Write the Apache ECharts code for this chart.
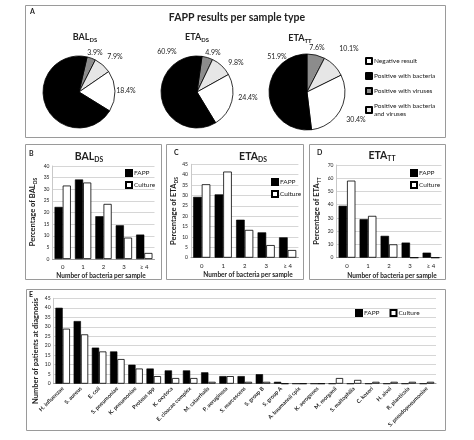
<!DOCTYPE html>
<html><head><meta charset="utf-8">
<script src="https://cdn.jsdelivr.net/npm/echarts@6/dist/echarts.min.js"></script>
<style>html,body{margin:0;padding:0;background:#fff}#c{width:474px;height:440px}</style>
</head><body><div id="c"></div>
<script>
// ---------- DATA ----------
const pieCategories = ['Negative result', 'Positive with bacteria', 'Positive with viruses', 'Positive with bacteria and viruses'];
const pieBAL = [18.4, 69.8, 3.9, 7.9];
const pieETADS = [24.4, 60.9, 4.9, 9.8];
const pieETATT = [30.4, 51.9, 7.6, 10.1];

const bacteriaCategories = ['0', '1', '2', '3', '≥ 4'];
const balFAPP = [22.4, 34.2, 18.4, 14.5, 10.5];
const balCulture = [31.6, 32.9, 23.7, 9.2, 2.6];
const etadsFAPP = [29.3, 30.5, 18.3, 12.2, 9.8];
const etadsCulture = [35.4, 41.5, 13.4, 6.1, 3.7];
const ettFAPP = [39.2, 29.1, 16.5, 11.4, 3.8];
const ettCulture = [58.2, 31.6, 10.1, 0, 0];

const species = ['H. influenzae', 'S. aureus', 'E. coli', 'S. pneumoniae', 'K. pneumoniae', 'Proteus spp', 'K. oxytoca',
  'E. cloacae complex', 'M. catarrhalis', 'P. aeruginosa', 'S. marcescens', 'S. group B', 'S. group A', 'A. baumannii cplx',
  'K. aerogenes', 'M. morganii', 'S. maltophilia', 'C. koseri', 'H. alvei', 'R. planticola', 'S. pseudopneumoniae'];
const speciesFAPP = [40, 33, 19, 17, 10, 8, 7, 7, 6, 4, 4, 5, 1, 0, 0, 0, 0, 0, 0, 0, 0];
const speciesCulture = [29, 26, 17, 13, 8, 4, 3, 3, 1, 4, 1, 1, 0, 0, 0, 3, 2, 1, 1, 1, 1];

// ---------- STYLE / LAYOUT ----------
const FONT = 'Lato, "Open Sans", sans-serif';
const TXT = '#222';
const pieColors = ['#ffffff', '#000000', '#8c8c8c', '#e6e6e6'];
const pieOrder = [2, 3, 0, 1]; // clockwise drawing order
const pieLayout = [
  { center: [79, 92], r: 36, start: 77, labels: [[126, 91], [50, 52], [95, 53], [115, 57]] },
  { center: [197, 92], r: 36, start: 82, labels: [[248, 98], [167, 52], [213, 53], [236, 63]] },
  { center: [307, 92], r: 38, start: 90, labels: [[356, 120], [277, 57], [317, 48], [349, 49]] }
];

function pieSeries(values, lay) {
  return {
    type: 'pie', radius: lay.r, center: lay.center, startAngle: lay.start, clockwise: true,
    silent: true, animation: false,
    data: pieOrder.map(i => ({ name: pieCategories[i], value: values[i], itemStyle: { color: pieColors[i] } })),
    itemStyle: { borderColor: '#000', borderWidth: 0.8 },
    label: { show: true, formatter: p => p.value.toFixed(1) + '%', fontSize: 7, color: TXT, fontFamily: FONT },
    labelLine: { show: false },
    labelLayout: p => {
      const idx = pieOrder[p.dataIndex];
      const pos = lay.labels[idx];
      return { x: pos[0], y: pos[1], align: 'center', verticalAlign: 'middle' };
    }
  };
}

const gridDefs = [
  { left: 52.5, top: 166, width: 102, height: 93 },
  { left: 191, top: 164.3, width: 107.4, height: 93.4 },
  { left: 336.5, top: 165, width: 105, height: 92.7 },
  { left: 53.6, top: 298.3, width: 382.4, height: 85.4 }
];
const yMax = [40, 45, 70, 45];
const yInt = [5, 5, 10, 5];

function xAxisDef(i, cats) {
  const isE = i === 3;
  return {
    type: 'category', gridIndex: i, data: cats,
    axisLine: { lineStyle: { color: '#9a9a9a', width: 1 } },
    axisTick: { show: false },
    axisLabel: isE ? { interval: 0, rotate: 45, fontSize: 5.5, fontWeight: 'bold', color: TXT, fontFamily: FONT, margin: 4 }
                   : { fontSize: 6, color: TXT, fontFamily: FONT, margin: 5 }
  };
}
function yAxisDef(i) {
  return {
    type: 'value', gridIndex: i, min: 0, max: yMax[i], interval: yInt[i],
    axisLine: { show: true, lineStyle: { color: '#c8c8c8' } },
    axisTick: { show: false },
    splitLine: { lineStyle: { color: '#d6d6d6', width: 1 } },
    axisLabel: { fontSize: 5, color: TXT, fontFamily: FONT, margin: 3 }
  };
}
function barPair(i, fapp, culture) {
  const common = { type: 'bar', xAxisIndex: i, yAxisIndex: i, barWidth: '40%', barGap: '0%', silent: true, animation: false };
  return [
    Object.assign({ name: 'FAPP', data: fapp, itemStyle: { color: '#000', borderColor: '#000', borderWidth: 0.6 } }, common),
    Object.assign({ name: 'Culture', data: culture, itemStyle: { color: '#fff', borderColor: '#000', borderWidth: 0.8 } }, common)
  ];
}
function barLegend(left, top, orient) {
  return {
    data: ['FAPP', 'Culture'], left, top, orient, icon: 'rect', itemWidth: 6, itemHeight: 6, itemGap: orient === 'vertical' ? 4 : 10,
    selectedMode: false, padding: 0,
    textStyle: { fontSize: 6.5, color: TXT, fontFamily: FONT, padding: [0, 0, 0, -3] }
  };
}

function rect(x, y, w, h) {
  return { type: 'rect', shape: { x, y, width: w, height: h }, style: { fill: 'none', stroke: '#9a9a9a', lineWidth: 1 }, silent: true };
}
function text(x, y, str, size, opts) {
  opts = opts || {};
  const subSize = Math.round(size * 0.65 * 10) / 10;
  return {
    type: 'text', x, y, rotation: opts.rot || 0, silent: true,
    style: {
      text: str, align: opts.align || 'center', verticalAlign: 'middle', fill: TXT,
      fontSize: size, fontWeight: 'bold', fontFamily: FONT,
      rich: {
        m: { fontSize: size, fontWeight: 'bold', fontFamily: FONT, fill: TXT, lineHeight: size + 3 },
        s: { fontSize: subSize, fontWeight: 'bold', fontFamily: FONT, fill: TXT, lineHeight: subSize + 1, verticalAlign: 'bottom' }
      }
    }
  };
}

const option = {
  backgroundColor: '#fff',
  animation: false,
  textStyle: { fontFamily: FONT },
  grid: gridDefs,
  xAxis: [xAxisDef(0, bacteriaCategories), xAxisDef(1, bacteriaCategories), xAxisDef(2, bacteriaCategories), xAxisDef(3, species)],
  yAxis: [yAxisDef(0), yAxisDef(1), yAxisDef(2), yAxisDef(3)],
  legend: [
    {
      data: pieCategories, left: 365, top: 57, orient: 'vertical', icon: 'rect', itemWidth: 6, itemHeight: 6, itemGap: 7,
      selectedMode: false, padding: 0,
      formatter: n => n === 'Positive with bacteria and viruses' ? 'Positive with bacteria\nand viruses' : n,
      textStyle: { fontSize: 6.5, color: TXT, fontFamily: FONT, lineHeight: 8, padding: [0, 0, 0, -3] }
    },
    barLegend(125, 169, 'vertical'),
    barLegend(271, 178, 'vertical'),
    barLegend(410, 169, 'vertical'),
    barLegend(355, 309, 'horizontal')
  ],
  series: [
    pieSeries(pieBAL, pieLayout[0]),
    pieSeries(pieETADS, pieLayout[1]),
    pieSeries(pieETATT, pieLayout[2]),
    ...barPair(0, balFAPP, balCulture),
    ...barPair(1, etadsFAPP, etadsCulture),
    ...barPair(2, ettFAPP, ettCulture),
    ...barPair(3, speciesFAPP, speciesCulture)
  ],
  graphic: [
    rect(25.5, 5.5, 420, 132),
    rect(25.5, 144.5, 136, 135),
    rect(166.5, 144.5, 137, 135),
    rect(309.5, 144.5, 136, 135),
    rect(26.5, 289.5, 419, 141),
    text(30, 12, 'A', 7, { align: 'left' }),
    text(237, 18, 'FAPP results per sample type', 10.5),
    text(85, 37, '{m|BAL}{s|DS}', 9),
    text(197, 37, '{m|ETA}{s|DS}', 9),
    text(300, 38, '{m|ETA}{s|TT}', 9),
    text(29, 154, 'B', 7, { align: 'left' }),
    text(174, 153, 'C', 7, { align: 'left' }),
    text(317, 153, 'D', 7, { align: 'left' }),
    text(29, 295, 'E', 7, { align: 'left' }),
    text(89, 157, '{m|BAL}{s|DS}', 10.5),
    text(253, 157, '{m|ETA}{s|DS}', 10.5),
    text(382, 156, '{m|ETA}{s|TT}', 10.5),
    text(33, 212, '{m|Percentage of BAL}{s|DS}', 7.5, { rot: Math.PI / 2 }),
    text(174, 211, '{m|Percentage of ETA}{s|DS}', 7.5, { rot: Math.PI / 2 }),
    text(317, 211, '{m|Percentage of ETA}{s|TT}', 7.5, { rot: Math.PI / 2 }),
    text(101, 276, 'Number of bacteria per sample', 6.5),
    text(248, 275, 'Number of bacteria per sample', 6.5),
    text(392, 276, 'Number of bacteria per sample', 6.5),
    text(36, 351, 'Number of patients at diagnosis', 7.5, { rot: Math.PI / 2 })
  ]
};

const chart = echarts.init(document.getElementById('c'), null, { renderer: 'canvas' });
chart.setOption(option);
</script>
</body></html>
